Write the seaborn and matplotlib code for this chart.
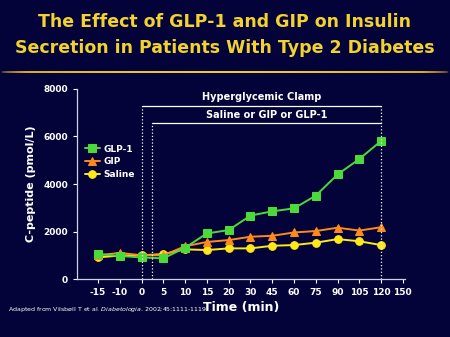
import numpy as np
import pandas as pd
import matplotlib
matplotlib.use("Agg")
import matplotlib.pyplot as plt
import seaborn as sns

# time points (categorical axis, evenly spaced)
time_labels = ["-15", "-10", "0", "5", "10", "15", "20", "30", "45", "60",
               "75", "90", "105", "120", "150"]

glp1 = [1050, 970, 910, 870, 1320, 1920, 2060, 2670, 2850, 2975, 3510, 4400, 5050, 5810]
gip = [1000, 1100, 1000, 1000, 1380, 1560, 1640, 1780, 1820, 1960, 2020, 2160, 2040, 2180]
saline = [910, 990, 1000, 1050, 1250, 1220, 1290, 1290, 1400, 1430, 1530, 1680, 1590, 1430]

series = ["GLP-1", "GIP", "Saline"]
colors = {"GLP-1": "#4cd93a", "GIP": "#ff8a1c", "Saline": "#ffe81a"}
markers = {"GLP-1": "s", "GIP": "^", "Saline": "o"}

bg = "#03033a"
fg = "white"

rows = []
for name, vals in zip(series, [glp1, gip, saline]):
    for i, v in enumerate(vals):
        rows.append({"pos": i, "value": v, "group": name})
df = pd.DataFrame(rows)

sns.set_style("dark")
plt.rcParams["font.family"] = ["DejaVu Sans"]

fig = plt.figure(figsize=(4.5, 3.37), dpi=100, facecolor=bg)
ax = fig.add_axes([0.171, 0.172, 0.729, 0.564])
ax.set_facecolor(bg)

# draw in reverse so GLP-1 sits on top
for name in series[::-1]:
    sns.lineplot(data=df[df["group"] == name], x="pos", y="value", ax=ax,
                 color=colors[name], marker=markers[name], markersize=5.5,
                 markeredgecolor=colors[name], linewidth=1.4, label=name,
                 legend=False)

ax.set_xlim(-0.97, 14.1)
ax.set_ylim(0, 8000)
ax.set_xticks(range(len(time_labels)))
ax.set_xticklabels(time_labels)
ax.set_yticks([0, 2000, 4000, 6000, 8000])
ax.tick_params(colors=fg, labelsize=6.5, length=3, width=0.8, direction="out",
               bottom=True, left=True)
for lab in ax.get_xticklabels() + ax.get_yticklabels():
    lab.set_fontweight("bold")
for s in ["top", "right"]:
    ax.spines[s].set_visible(False)
for s in ["left", "bottom"]:
    ax.spines[s].set_color("#d0d0e0")
    ax.spines[s].set_linewidth(0.9)
ax.grid(False)
ax.set_xlabel("Time (min)", color=fg, fontsize=9, fontweight="bold", labelpad=3)
ax.set_ylabel("C-peptide (pmol/L)", color=fg, fontsize=8, fontweight="bold", labelpad=5)

# clamp / infusion brackets
top1, top2 = 7290, 6570
ax.plot([2, 2], [0, top1], ls=":", color=fg, lw=0.9)
ax.plot([2.5, 2.5], [0, top2], ls=":", color=fg, lw=0.9)
ax.plot([13, 13], [0, top1], ls=":", color=fg, lw=0.9)
ax.plot([2, 13], [top1, top1], color=fg, lw=0.9)
ax.plot([2.5, 13], [top2, top2], color=fg, lw=0.9)
ax.text(7.5, 7680, "Hyperglycemic Clamp", color=fg, fontsize=7, fontweight="bold",
        ha="center", va="center")
ax.text(7.75, 6920, "Saline or GIP or GLP-1", color=fg, fontsize=7, fontweight="bold",
        ha="center", va="center")

handles, labels = ax.get_legend_handles_labels()
order = [labels.index(n) for n in series]
leg = ax.legend([handles[i] for i in order], [labels[i] for i in order],
                loc="upper left", bbox_to_anchor=(0.0, 0.75), frameon=False,
                handlelength=1.6, handletextpad=0.4, labelspacing=0.4,
                prop={"size": 6.5, "weight": "bold"})
for t in leg.get_texts():
    t.set_color(fg)

# title and gold rule
fig.text(0.5, 0.935, "The Effect of GLP-1 and GIP on Insulin", color="#f2d22e",
         fontsize=12.5, fontweight="bold", ha="center", va="center")
fig.text(0.5, 0.858, "Secretion in Patients With Type 2 Diabetes", color="#f2d22e",
         fontsize=12.5, fontweight="bold", ha="center", va="center")
gax = fig.add_axes([0.0, 0.782, 1.0, 0.006])
grad = np.sin(np.linspace(0, np.pi, 256)) ** 0.4
gax.imshow(grad[None, :], aspect="auto", cmap=sns.blend_palette([bg, "#d8a820", "#f0c830"], as_cmap=True))
gax.axis("off")

fig.text(0.018, 0.083, r"Adapted from Vilsbøll T et al. $\it{Diabetologia}$. 2002;45:1111-1119.",
         color=fg, fontsize=4.5, ha="left", va="center")

fig.savefig("out.png", dpi=100, facecolor=bg)
